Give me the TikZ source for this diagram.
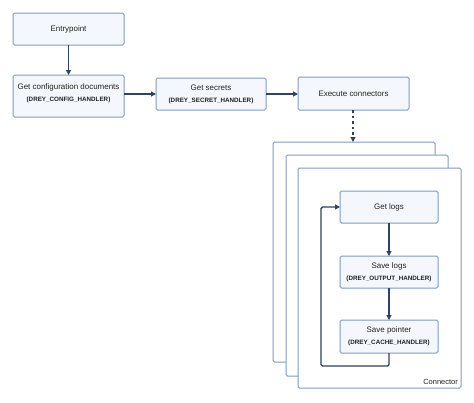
\documentclass[tikz,border=0pt]{standalone}
\usepackage{fontspec}
\setmainfont{Liberation Sans}
\usetikzlibrary{arrows.meta}
\definecolor{bordc}{HTML}{7E9CC0}
\definecolor{fillc}{HTML}{F4F8FC}
\definecolor{arrc}{HTML}{2E4361}
\definecolor{txtc}{HTML}{222222}
\newcommand\hndf{\bfseries\fontsize{6.3}{7.5}\selectfont}
\begin{document}
\begin{tikzpicture}[x=1bp,y=-1bp,
  boxs/.style={draw=bordc,fill=fillc,line width=1bp,rounded corners=1.5bp},
  frames/.style={draw=bordc,fill=white,line width=1bp,rounded corners=1.5bp},
  lbl/.style={text=txtc,font=\fontsize{8}{9.5}\selectfont,align=center,inner sep=0pt},
  arr/.style={draw=arrc,line width=1.4bp,-{Triangle[length=5bp,width=5bp]}}]
\useasboundingbox (0,0) rectangle (474,402);
% boxes
\draw[boxs] (13,13) rectangle (124,45);
\node[lbl] (entry) at (68.5,29) {Entrypoint};
\coordinate (entryb) at (68.5,45);
\draw[boxs] (13,75) rectangle (124,117);
\node[lbl] (cfg) at (68.5,93) {Get configuration documents\\[2.5bp]{\hndf(DREY\_CONFIG\_HANDLER)}};
\coordinate (cfgt) at (68.5,75);
\coordinate (cfgr) at (124,94);
\draw[boxs] (156,78) rectangle (266,110);
\node[lbl] (sec) at (211,94) {Get secrets\\[2.5bp]{\hndf(DREY\_SECRET\_HANDLER)}};
\coordinate (secl) at (156,94);
\coordinate (secr) at (266,94);
\draw[boxs] (298,77) rectangle (409,110);
\node[lbl] (exe) at (353.5,93.5) {Execute connectors};
\coordinate (exel) at (298,94);
\coordinate (exeb) at (353,110);
% stacked frames
\draw[frames] (273,142) rectangle (435,362);
\coordinate (f1t) at (353,142);
\draw[frames] (286,155) rectangle (448,376);
\draw[frames] (298,168) rectangle (461,388);
\node[lbl,anchor=south east,font=\fontsize{7.5}{8.5}\selectfont] (conn) at (458,385) {Connector};
% inner boxes
\draw[boxs] (340,191) rectangle (438,223);
\node[lbl] (gl) at (389,207) {Get logs};
\coordinate (glb) at (389,223);
\coordinate (gll) at (340,207);
\draw[boxs] (340,256) rectangle (438,288);
\node[lbl] (sl) at (389,272) {Save logs\\[2.5bp]{\hndf(DREY\_OUTPUT\_HANDLER)}};
\coordinate (slt) at (389,256);
\coordinate (slb) at (389,288);
\draw[boxs] (340,320) rectangle (438,353);
\node[lbl] (sp) at (389,336.5) {Save pointer\\[2.5bp]{\hndf(DREY\_CACHE\_HANDLER)}};
\coordinate (spt) at (389,320);
\coordinate (spb) at (389,353);
% connectors
\draw[arr] (entryb) -- (cfgt);
\draw[arr] (cfgr) -- (secl);
\draw[arr] (secr) -- (exel);
\draw[arr,dash pattern=on 2.5bp off 3bp] (exeb) -- (f1t);
\draw[arr] (glb) -- (slt);
\draw[arr] (slb) -- (spt);
\draw[arr,rounded corners=1.5bp] (spb) -- (389,366) -- (321,366) -- (321,207) -- (gll);
\end{tikzpicture}
\end{document}
